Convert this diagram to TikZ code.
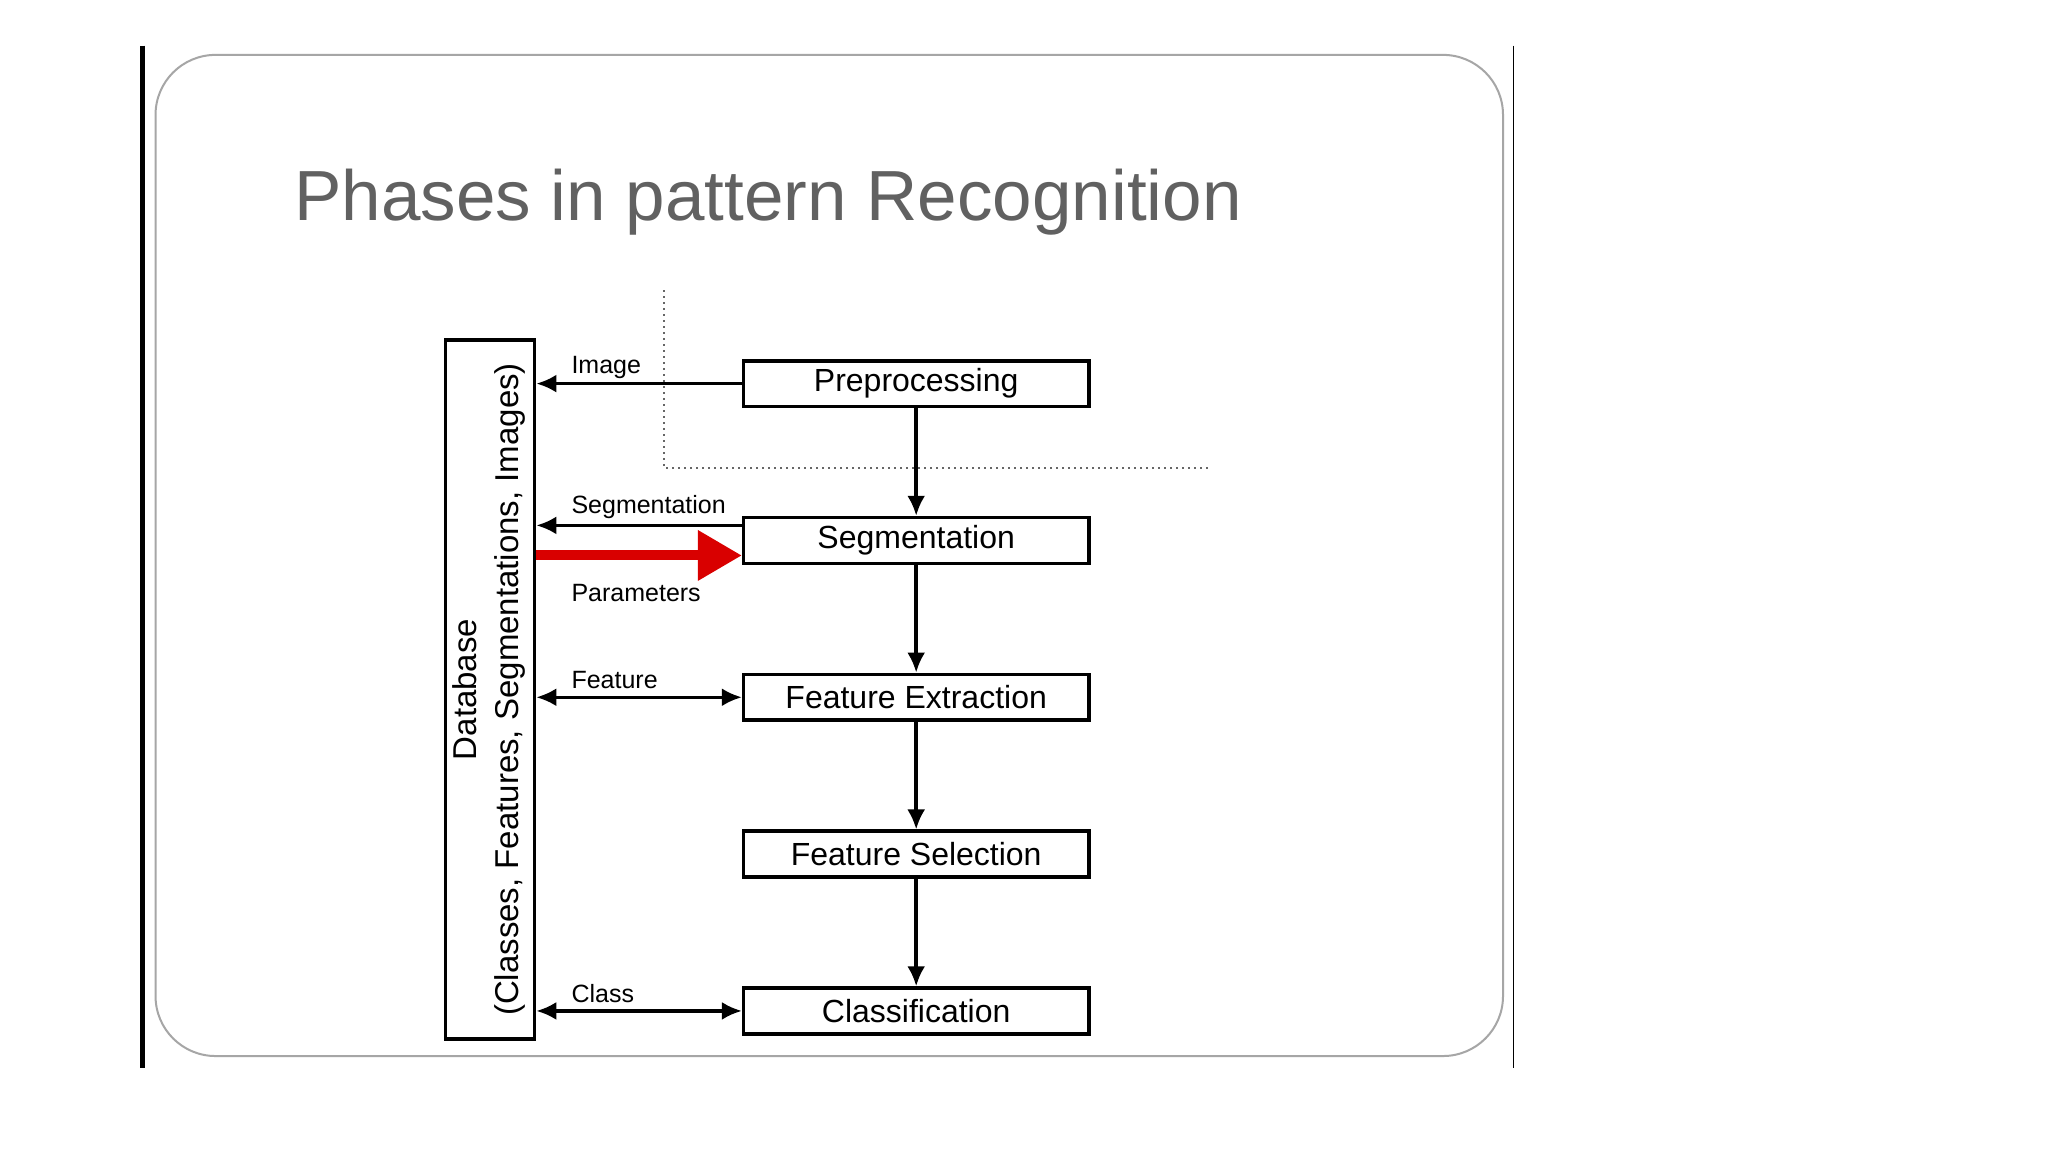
\documentclass[tikz,border=0pt]{standalone}
\usepackage{fontspec}
\setmainfont{Liberation Sans}
\usetikzlibrary{arrows.meta}
\begin{document}
\begin{tikzpicture}[x=0.6535pt,y=-0.6535pt,
  box/.style={draw,line width=1.8pt,minimum width=264*0.6535pt,minimum height=35*0.6535pt,inner sep=0pt,font=\fontsize{16}{19}\selectfont},
  lbl/.style={font=\fontsize{12.5}{15}\selectfont,anchor=west,inner sep=0pt},
  arr/.style={line width=1.7pt,-{Latex[length=10pt,width=9pt]}},
  darr/.style={line width=1.7pt,{Latex[length=10pt,width=9pt]}-{Latex[length=10pt,width=9pt]}}]
\useasboundingbox (0,0) rectangle (1567,881.5);
\fill[white] (0,0) rectangle (1567,881.5);
\draw[line width=2.2pt] (109,35) -- (109,817);
\draw[line width=0.7pt] (1158,35) -- (1158,817);
\draw[gray!70,line width=1pt,rounded corners=30pt] (119,42) rectangle (1150,808);
\node[anchor=west,text=black!62,font=\fontsize{35.5}{42}\selectfont,inner sep=0pt] (title) at (225,155) {Phases in pattern Recognition};
\draw[black!60,dotted,line width=1pt] (508,222) -- (508,358) -- (927,358);
\node[draw,line width=1.8pt,minimum width=68*0.6535pt,minimum height=535*0.6535pt,inner sep=0pt] (db) at (375,527.5) {};
\node[rotate=90,font=\fontsize{16.5}{19}\selectfont,align=center] (dbt) at (374,527.5) {Database\\[2pt](Classes, Features, Segmentations, Images)};
\node[box] (pre) at (701,293.5) {Preprocessing};
\node[box] (seg) at (701,413.5) {Segmentation};
\node[box] (fe) at (701,533.5) {Feature Extraction};
\node[box] (fs) at (701,653.5) {Feature Selection};
\node[box] (cl) at (701,773.5) {Classification};
\draw[arr] (pre) -- (seg);
\draw[arr] (seg) -- (fe);
\draw[arr] (fe) -- (fs);
\draw[arr] (fs) -- (cl);
\draw[arr] (pre.west) -- (db.east |- pre.west);
\draw[arr] (seg.west |- 0,402) -- (db.east |- 0,402);
\draw[red!85!black,line width=5pt,-{Triangle[length=22pt,width=24pt]}] (db.east |- 0,425) -- (seg.west |- 0,425);
\draw[darr] (db.east |- fe.west) -- (fe.west);
\draw[darr] (db.east |- cl.west) -- (cl.west);
\node[lbl] (l1) at (437,281) {Image};
\node[lbl] (l2) at (437,388) {Segmentation};
\node[lbl] (l3) at (437,454) {Parameters};
\node[lbl] (l4) at (437,520) {Feature};
\node[lbl] (l5) at (437,760) {Class};
\end{tikzpicture}
\end{document}
